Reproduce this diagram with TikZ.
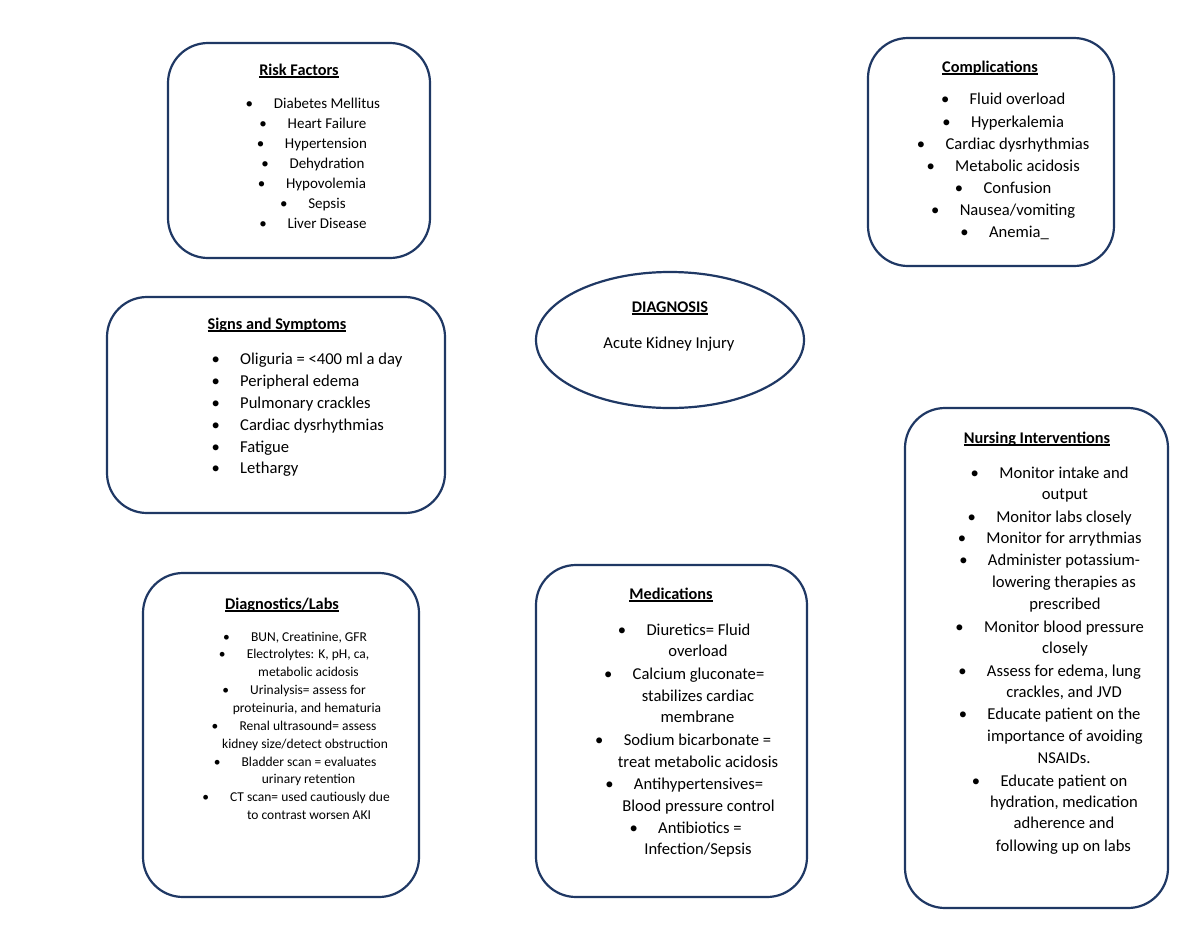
\documentclass[tikz,border=0pt]{standalone}
\usepackage{fontspec}
\setmainfont{Carlito}
\usetikzlibrary{shapes.geometric}
\definecolor{navy}{HTML}{1F3864}
\newcommand\hul[1]{\setbox0\hbox{#1}\rlap{\rule[-2.2pt]{\wd0}{1.1pt}}\box0}
\newcommand\bul{\makebox[0pt][r]{\makebox[0pt][c]{\textbullet}\hspace{24.5pt}}}
\tikzset{
  box/.style={draw=navy, line width=2.2pt, rounded corners=40pt, inner sep=0pt},
  head/.style={font=\bfseries\fontsize{16.3}{19}\selectfont, anchor=mid, inner sep=0pt, yshift=-3pt},
  it/.style={font=\fontsize{16.6}{20}\selectfont, anchor=mid, inner sep=0pt, yshift=-3pt},
  itr/.style={font=\fontsize{15}{18}\selectfont, anchor=mid, inner sep=0pt, yshift=-3pt},
  itl/.style={font=\fontsize{13.5}{16}\selectfont, anchor=mid, inner sep=0pt, yshift=-2.5pt},
}
\begin{document}
\begin{tikzpicture}[x=1pt,y=-1pt]
\useasboundingbox[fill=white] (0,0) rectangle (1200,927);
% boxes
\node[box, minimum width=262, minimum height=215] (risk) at (299,150.5) {};
\node[box, minimum width=246, minimum height=228] (comp) at (991,152) {};
\node[box, minimum width=338, minimum height=216] (ss) at (276,405) {};
\node[ellipse, draw=navy, line width=2.2pt, minimum width=268, minimum height=136, inner sep=0pt] (diag) at (670,340) {};
\node[box, minimum width=276, minimum height=324] (labs) at (281,735) {};
\node[box, minimum width=271, minimum height=332] (med) at (671.5,731) {};
\node[box, minimum width=263, minimum height=500] (nurs) at (1036.5,658) {};

% Risk Factors
\node[head] (rh) at (299,70) {\hul{Risk Factors}};
\node[itr] (r1) at (327,103) {\bul Diabetes Mellitus};
\node[itr] (r2) at (327,123) {\bul Heart Failure};
\node[itr] (r3) at (326,143) {\bul Hypertension};
\node[itr] (r4) at (327,163) {\bul Dehydration};
\node[itr] (r5) at (326,183) {\bul Hypovolemia};
\node[itr] (r6) at (327,203) {\bul Sepsis};
\node[itr] (r7) at (327,223) {\bul Liver Disease};

% Complications
\node[head] (ch) at (990,67) {\hul{Complications}};
\node[it] (c1) at (1017.5,99) {\bul Fluid overload};
\node[it] (c2) at (1017.5,122) {\bul Hyperkalemia};
\node[it] (c3) at (1017.5,144) {\bul Cardiac dysrhythmias};
\node[it] (c4) at (1017.5,166) {\bul Metabolic acidosis};
\node[it] (c5) at (1017.5,188) {\bul Confusion};
\node[it] (c6) at (1017.5,210) {\bul Nausea/vomiting};
\node[it] (c7) at (1019,232) {\bul Anemia\_};

% Signs and Symptoms
\node[head] (sh) at (277,324) {\hul{Signs and Symptoms}};
\node[it, anchor=mid west] (s1) at (240,359) {\bul Oliguria = <400 ml a day};
\node[it, anchor=mid west] (s2) at (240,381) {\bul Peripheral edema};
\node[it, anchor=mid west] (s3) at (240,403) {\bul Pulmonary crackles};
\node[it, anchor=mid west] (s4) at (240,425) {\bul Cardiac dysrhythmias};
\node[it, anchor=mid west] (s5) at (240,447) {\bul Fatigue};
\node[it, anchor=mid west] (s6) at (240,468) {\bul Lethargy};

% Diagnosis
\node[head] (dh) at (670,307) {\hul{DIAGNOSIS}};
\node[it] (d1) at (669,343) {Acute Kidney Injury};

% Diagnostics/Labs
\node[head] (lh) at (282,604) {\hul{Diagnostics/Labs}};
\node[itl] (l1) at (309,637) {\bul BUN, Creatinine, GFR};
\node[itl] (l2) at (308,654) {\bul Electrolytes: K, pH, ca,};
\node[itl] (l3) at (308.5,672) {metabolic acidosis};
\node[itl] (l4) at (308,690) {\bul Urinalysis= assess for};
\node[itl] (l5) at (307,708) {proteinuria, and hematuria};
\node[itl] (l6) at (308,726) {\bul Renal ultrasound= assess};
\node[itl] (l7) at (305,744) {kidney size/detect obstruction};
\node[itl] (l8) at (309,762) {\bul Bladder scan = evaluates};
\node[itl] (l9) at (308.5,779) {urinary retention};
\node[itl] (l10) at (310,797) {\bul CT scan= used cautiously due};
\node[itl] (l11) at (309,815) {to contrast worsen AKI};

% Medications
\node[head] (mh) at (671,594) {\hul{Medications}};
\node[it] (m1) at (698.5,630) {\bul Diuretics= Fluid};
\node[it] (m2) at (698,651) {overload};
\node[it] (m3) at (698.5,674) {\bul Calcium gluconate=};
\node[it] (m4) at (698,696) {stabilizes cardiac};
\node[it] (m5) at (697.5,717) {membrane};
\node[it] (m6) at (697.5,740) {\bul Sodium bicarbonate =};
\node[it] (m7) at (698,762) {treat metabolic acidosis};
\node[it] (m8) at (698.5,784) {\bul Antihypertensives=};
\node[it] (m9) at (698.5,806) {Blood pressure control};
\node[it] (m10) at (700,828) {\bul Antibiotics =};
\node[it] (m11) at (698,849) {Infection/Sepsis};

% Nursing Interventions
\node[head] (nh) at (1037,438) {\hul{Nursing Interventions}};
\node[it] (n1) at (1064,473) {\bul Monitor intake and};
\node[it] (n2) at (1065,494) {output};
\node[it] (n3) at (1064,517) {\bul Monitor labs closely};
\node[it] (n4) at (1064,538) {\bul Monitor for arrythmias};
\node[it] (n5) at (1064,560) {\bul Administer potassium-};
\node[it] (n6) at (1064,582) {lowering therapies as};
\node[it] (n7) at (1065,604) {prescribed};
\node[it] (n8) at (1064,627) {\bul Monitor blood pressure};
\node[it] (n9) at (1065,648) {closely};
\node[it] (n10) at (1064,671) {\bul Assess for edema, lung};
\node[it] (n11) at (1064,692) {crackles, and JVD};
\node[it] (n12) at (1064,714) {\bul Educate patient on the};
\node[it] (n13) at (1065,736) {importance of avoiding};
\node[it] (n14) at (1064,758) {NSAIDs.};
\node[it] (n15) at (1064,781) {\bul Educate patient on};
\node[it] (n16) at (1064,802) {hydration, medication};
\node[it] (n17) at (1064,823) {adherence and};
\node[it] (n18) at (1063.5,846) {following up on labs};
\end{tikzpicture}
\end{document}
